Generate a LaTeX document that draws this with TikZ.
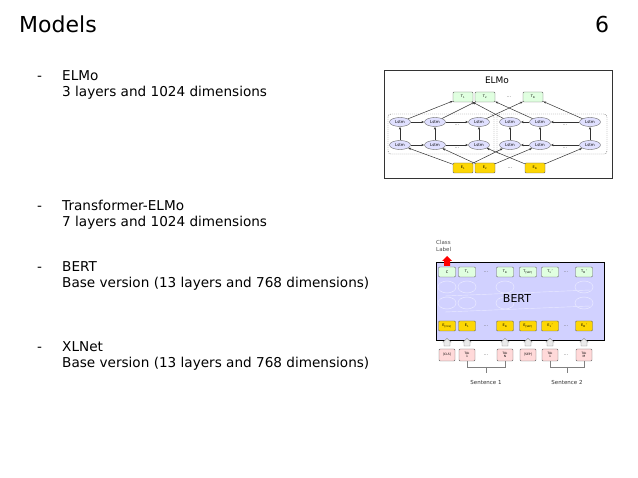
\documentclass[tikz,border=0pt]{standalone}
\usepackage{fontspec}
\setmainfont{DejaVu Sans}
\usetikzlibrary{shapes.geometric,arrows.meta}
\newcommand{\sbs}[1]{\textsubscript{#1}}
\begin{document}
\begin{tikzpicture}[x=1pt,y=-1pt,
  txt/.style={anchor=west,font=\fontsize{13.6}{15}\selectfont,inner sep=0,text height=10pt,text depth=3pt},
  tbox/.style={draw=black!60,fill=green!12!white,rounded corners=1pt,minimum width=20pt,minimum height=10pt,inner sep=0,font=\fontsize{3.5}{4}\selectfont},
  ebox/.style={draw=black!60,fill=yellow!75!orange,rounded corners=1pt,minimum width=20pt,minimum height=10pt,inner sep=0,font=\fontsize{3.5}{4}\selectfont},
  kbox/.style={draw=black!60,fill=red!15,rounded corners=1pt,minimum width=16pt,minimum height=12pt,inner sep=0,font=\fontsize{3}{3}\selectfont,align=center},
  lstm/.style={ellipse,draw=black!60,fill=blue!12,minimum width=21pt,minimum height=9pt,inner sep=0,font=\fontsize{4}{4}\selectfont},
  ar/.style={-{Stealth[length=3pt]},black!80,line width=0.5pt},
  house/.style={draw=black!50,fill=black!8,line width=0.4pt},
  dots/.style={font=\fontsize{5}{5}\selectfont,text=black!60}]
\useasboundingbox (0,0) rectangle (638,478);
\node[anchor=west,font=\fontsize{22}{24}\selectfont,inner sep=0] (title) at (19,24) {Models};
\node[font=\fontsize{22}{24}\selectfont,inner sep=0] (pg) at (602,24) {6};
% bullets
\foreach \n/\y/\a/\b in {1/77/ELMo/3 layers and 1024 dimensions,
  2/207/Transformer-ELMo/7 layers and 1024 dimensions,
  3/268/BERT/Base version (13 layers and 768 dimensions),
  4/348/XLNet/Base version (13 layers and 768 dimensions)}{
  \node[txt] (d\n) at (37,\y) {-};
  \node[txt] (a\n) at (62,\y) {\a};
  \node[txt] (b\n) at (62,\y+16) {\b};
}
% ELMo figure
\draw[black!80,line width=0.8pt] (384,70) rectangle (612,178);
\node[font=\fontsize{9}{9}\selectfont] (et) at (497,80) {ELMo};
\draw[dash pattern=on 1pt off 1pt,black!60,rounded corners=3pt] (388,114) rectangle (494,154);
\draw[dash pattern=on 1pt off 1pt,black!60,rounded corners=3pt] (497,114) rectangle (607,154);
\node[tbox] (T1) at (463,97) {T\sbs{1}};
\node[tbox] (T2) at (485,97) {T\sbs{2}};
\node[tbox] (TN) at (533,97) {T\sbs{N}};
\node[dots] (td) at (509,97) {...};
\node[ebox] (E1) at (463,168) {E\sbs{1}};
\node[ebox] (E2) at (485,168) {E\sbs{2}};
\node[ebox] (EN) at (535,168) {E\sbs{N}};
\node[dots] (ed) at (510,168) {...};
\foreach \n/\x in {a/400,b/435,c/479,d/510,e/540,f/590}{
  \node[lstm] (U\n) at (\x,122) {Lstm};
  \node[lstm] (D\n) at (\x,145) {Lstm};
  \draw[ar] (D\n) -- (U\n);
}
\foreach \r in {U,D}{
  \draw[ar] (\r a) -- (\r b);
  \draw[ar] (\r b) -- (\r c);
  \draw[ar] (\r f) -- (\r e);
  \draw[ar] (\r e) -- (\r d);
}
\node[dots] at (457,125) {...};
\node[dots] at (457,148) {...};
\node[dots] at (565,125) {...};
\node[dots] at (565,148) {...};
\draw[ar] (E1) -- (Da); \draw[ar] (E1) -- (Dd);
\draw[ar] (E2) -- (Db); \draw[ar] (E2) -- (De);
\draw[ar] (EN) -- (Dc); \draw[ar] (EN) -- (Df);
\draw[ar] (Ua) -- (T1); \draw[ar] (Ud) -- (T1);
\draw[ar] (Ub) -- (T2); \draw[ar] (Ue) -- (T2);
\draw[ar] (Uc) -- (TN); \draw[ar] (Uf) -- (TN);
% BERT figure
\node[anchor=west,font=\fontsize{5.5}{7}\selectfont,align=left,inner sep=0,text=black!70] (cl) at (436,246) {Class\\Label};
\draw[fill=blue!18,draw=black,line width=0.8pt] (436,262) rectangle (604,340);
\foreach \y in {287,303}{
  \foreach \x in {447,467,505,584}{
    \draw[white!80!blue!40,line width=0.5pt] (\x,\y) ellipse (9pt and 6pt);
  }
}
\draw[white!80!blue!40] (445,296) -- (590,290);
\draw[white!80!blue!40] (445,312) -- (590,306);
\node[font=\fontsize{11}{11}\selectfont] (bl) at (517,298) {BERT};
\foreach \n/\x/\t/\e/\k in {a/447/C/E\sbs{[CLS]}/[CLS],b/467/T\sbs{1}/E\sbs{1}/Tok\\1,c/505/T\sbs{N}/E\sbs{N}/Tok\\N,d/528/T\sbs{[SEP]}/E\sbs{[SEP]}/[SEP],e/550/T\sbs{1}'/E\sbs{1}'/Tok\\1,f/584/T\sbs{M}'/E\sbs{M}'/Tok\\M}{
  \node[tbox,minimum width=17pt] (BT\n) at (\x,272) {\t};
  \node[ebox,minimum width=17pt] (BE\n) at (\x,326) {\e};
  \node[kbox] (K\n) at (\x,355) {\k};
  \draw[house] (\x-3,346) -- (\x+3,346) -- (\x+3,342) -- (\x+4,342) -- (\x,338.5) -- (\x-4,342) -- (\x-3,342) -- cycle;
}
\node[dots] at (486,272) {...}; \node[dots] at (566,272) {...};
\node[dots] at (486,326) {...}; \node[dots] at (566,326) {...};
\node[dots] at (486,355) {...}; \node[dots] at (566,355) {...};
\fill[red] (444,266) -- (450,266) -- (450,261) -- (452,261) -- (447,256) -- (442,261) -- (444,261) -- cycle;
\draw[black!50] (Kb.south) -- ++(0,6) -| (Kc.south);
\draw[black!50] (Ke.south) -- ++(0,6) -| (Kf.south);
\coordinate (s1) at (486,367);
\coordinate (s2) at (567,367);
\draw[black!50] (s1) -- ++(0,6);
\draw[black!50] (s2) -- ++(0,6);
\node[font=\fontsize{5.5}{6}\selectfont,text=black!80] (S1) at (486,382) {Sentence 1};
\node[font=\fontsize{5.5}{6}\selectfont,text=black!80] (S2) at (567,382) {Sentence 2};
\end{tikzpicture}
\end{document}
